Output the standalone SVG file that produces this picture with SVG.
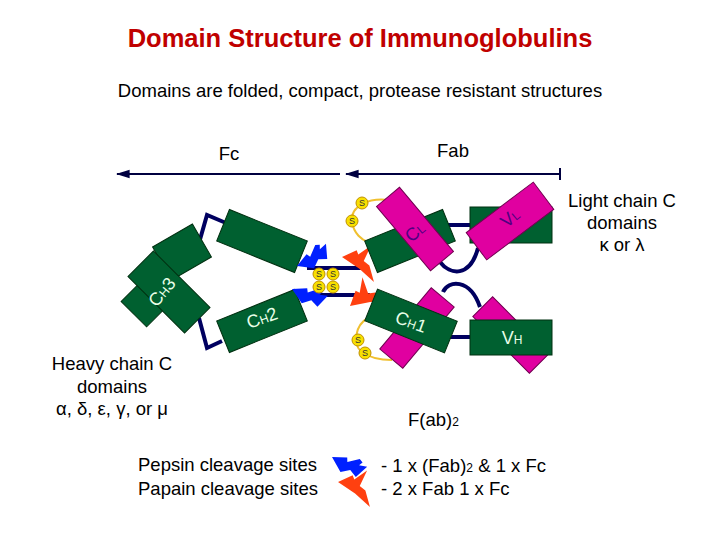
<svg xmlns="http://www.w3.org/2000/svg" width="720" height="540" viewBox="0 0 720 540">
<style>
text{font-family:"Liberation Sans",Arial,sans-serif}
.g{fill:#006030;stroke:#003010;stroke-width:1}
.m{fill:#e000a0;stroke:#700050;stroke-width:1}
.ln{fill:none;stroke:#000060;stroke-width:4}
.ys{fill:none;stroke:#f0c030;stroke-width:2}
.sc{fill:#f8e000;stroke:#c09000;stroke-width:1}
.st{font-size:9px;fill:#333}
.wl{fill:#e8ffe8;font-size:18px}
.pl{fill:#500080;font-size:18px}
.t{font-size:18.5px;fill:#000}
</style>
<defs>
<marker id="ah" viewBox="0 0 10 10" refX="9" refY="5" markerWidth="7" markerHeight="7" orient="auto-start-reverse"><path d="M0,2 L10,5 L0,8 Z" fill="#000040"/></marker>
<path id="blue" d="M0,0 L14,-6 L16,-2 L26,-10 L30,-8 L28,-4 L36,-6 L30,8 L22,4 L14,10 Z" fill="#0020ff"/>
<path id="red" d="M0,0 L14,-8 L16,-4 L28,-14 L22,2 L28,6 L34,22 L18,10 Z" fill="#ff4010"/>
</defs>
<text x="360" y="47" text-anchor="middle" font-size="25.5" font-weight="bold" fill="#c00000">Domain Structure of Immunoglobulins</text>
<text x="360" y="97" text-anchor="middle" font-size="18.5">Domains are folded, compact, protease resistant structures</text>
<text x="229" y="160" class="t" text-anchor="middle">Fc</text>
<text x="453" y="157" class="t" text-anchor="middle">Fab</text>
<g id="connectors">
<line x1="340" y1="174" x2="117" y2="174" stroke="#000040" stroke-width="2" marker-end="url(#ah)"/>
<line x1="346" y1="174" x2="560" y2="174" stroke="#000040" stroke-width="2" marker-start="url(#ah)"/>
<line x1="560" y1="168" x2="560" y2="180" stroke="#000040" stroke-width="2"/>
<path class="ln" d="M199,243 L207,215 L226,223"/>
<path class="ln" d="M199,318 L207,348 L222,341"/>
<path class="ln" d="M307,268 L368,268"/>
<path class="ln" d="M307,295 L370,295"/>
<path class="ln" d="M446,225 L472,225"/>
<path class="ln" d="M440,262 C450,275 470,278 478,248"/>
<path class="ln" d="M450,337 L472,337"/>
<path class="ln" d="M443,292 C448,280 470,278 480,307"/>
<path class="ys" d="M388,200 C370,198 350,205 352,222 C354,234 362,240 368,242"/>
<path class="ys" d="M368,318 C355,325 352,345 362,352 C370,358 380,360 392,360"/>
</g>
<g id="CH3">
<rect class="g" x="-23" y="-19" width="46" height="38" transform="translate(182,252) rotate(-30)"/>
<rect class="g" x="-20" y="-18" width="40" height="36" transform="translate(148,300) rotate(-45)"/>
<rect class="g" x="-40" y="-18" width="80" height="36" transform="translate(169,292) rotate(45)"/>
<text class="wl" x="0" y="6" text-anchor="middle" transform="translate(162,292) rotate(-50)">C<tspan font-size="12">H</tspan>3</text>
</g>
<g id="CH2a"><rect class="g" x="-42" y="-17" width="84" height="34" transform="translate(262,241) rotate(22)"/></g>
<g id="CH2b"><rect class="g" x="-42" y="-17" width="84" height="34" transform="translate(262,321) rotate(-22)"/>
<text class="wl" x="0" y="6" text-anchor="middle" transform="translate(262,318) rotate(-20)">C<tspan font-size="12">H</tspan>2</text></g>
<g id="cleavage">
<use href="#blue" transform="translate(297,266) rotate(-28)"/>
<use href="#blue" transform="translate(292,289) rotate(20)"/>
<use href="#red" transform="translate(342,257) rotate(5)"/>
<use href="#red" transform="translate(350,306) rotate(-40)"/>
</g>
<g id="SS">
<circle class="sc" cx="319" cy="274" r="6"/><circle class="sc" cx="333" cy="274" r="6"/>
<circle class="sc" cx="319" cy="287" r="6"/><circle class="sc" cx="333" cy="287" r="6"/>
<text class="st" x="319" y="277" text-anchor="middle">S</text><text class="st" x="333" y="277" text-anchor="middle">S</text>
<text class="st" x="319" y="290" text-anchor="middle">S</text><text class="st" x="333" y="290" text-anchor="middle">S</text>
<circle class="sc" cx="362" cy="203" r="6"/><circle class="sc" cx="352" cy="221" r="6"/>
<text class="st" x="362" y="206" text-anchor="middle">S</text><text class="st" x="352" y="224" text-anchor="middle">S</text>
<circle class="sc" cx="358" cy="340" r="6"/><circle class="sc" cx="365" cy="353" r="6"/>
<text class="st" x="358" y="343" text-anchor="middle">S</text><text class="st" x="365" y="356" text-anchor="middle">S</text>
</g>
<g id="CL">
<rect class="g" x="-42" y="-17" width="84" height="34" transform="translate(410,241) rotate(-22)"/>
<rect class="m" x="-42" y="-15" width="84" height="30" transform="translate(415,229) rotate(50)"/>
<text class="pl" x="0" y="6" text-anchor="middle" transform="translate(415,232) rotate(-40)">C<tspan font-size="12">L</tspan></text>
</g>
<g id="VL">
<rect class="g" x="470" y="207" width="82" height="36"/>
<rect class="m" x="-42" y="-17" width="84" height="34" transform="translate(510,221) rotate(-37)"/>
<text class="pl" x="0" y="6" text-anchor="middle" transform="translate(510,218) rotate(-40)">V<tspan font-size="12">L</tspan></text>
</g>
<g id="CH1">
<rect class="m" x="-40" y="-15" width="80" height="30" transform="translate(417,328) rotate(-50)"/>
<rect class="g" x="-43" y="-17" width="86" height="34" transform="translate(411,321) rotate(22)"/>
<text class="wl" x="0" y="6" text-anchor="middle" transform="translate(411,322) rotate(20)">C<tspan font-size="12">H</tspan>1</text>
</g>
<g id="VH">
<rect class="m" x="-40" y="-14" width="80" height="28" transform="translate(511,335) rotate(45)"/>
<rect class="g" x="470" y="320" width="82" height="35"/>
<text class="wl" x="512" y="344" text-anchor="middle">V<tspan font-size="12">H</tspan></text>
</g>
<text class="t" text-anchor="middle"><tspan x="622" y="207">Light chain C</tspan><tspan x="622" y="229">domains</tspan><tspan x="622" y="251">κ or λ</tspan></text>
<text class="t" text-anchor="middle"><tspan x="112" y="370">Heavy chain C</tspan><tspan x="112" y="393">domains</tspan><tspan x="112" y="415">α, δ, ε, γ, or μ</tspan></text>
<text class="t" x="408" y="426">F(ab)<tspan font-size="12">2</tspan></text>
<text class="t" x="138" y="471">Pepsin cleavage sites</text>
<text class="t" x="138" y="495">Papain cleavage sites</text>
<use href="#blue" transform="translate(332,457) rotate(25)"/>
<use href="#red" transform="translate(338,482) rotate(5)"/>
<text class="t" x="381" y="472">- 1 x (Fab)<tspan font-size="12">2</tspan> &amp; 1 x Fc</text>
<text class="t" x="381" y="495">- 2 x Fab 1 x Fc</text>
</svg>
